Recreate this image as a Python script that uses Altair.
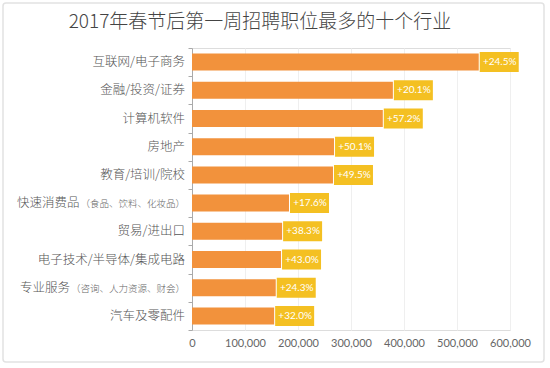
import altair as alt
import pandas as pd

# Top ten industries by job postings, first week after Spring Festival 2017
industries = ["互联网/电子商务", "金融/投资/证券", "计算机软件", "房地产", "教育/培训/院校",
              "快速消费品", "贸易/进出口", "电子技术/半导体/集成电路", "专业服务", "汽车及零配件"]
details = ["", "", "", "", "", "（食品、饮料、化妆品）", "", "", "（咨询、人力资源、财会）", ""]
postings = [541000, 379000, 360000, 268000, 266000, 183000, 170000, 168000, 158000, 155000]
growth = [24.5, 20.1, 57.2, 50.1, 49.5, 17.6, 38.3, 43.0, 24.3, 32.0]
x_ticks = [0, 100000, 200000, 300000, 400000, 500000, 600000]
title_text = "2017年春节后第一周招聘职位最多的十个行业"

MAIN_FS = 12.5
SUB_FS = 9.5

df = pd.DataFrame({
    "industry": industries,
    "detail": details,
    "postings": postings,
    "growth": growth,
})
df["growth_label"] = ["+" + format(g, ".1f") + "%" for g in growth]
# shift the main label left by the width of its smaller bracketed note
df["main_off"] = [-(len(d) * SUB_FS + 1) if d else 0 for d in details]

ORANGE = "#F2923C"
GOLD = "#F4C022"
LABEL_FONT = "Noto Sans CJK SC"

y_enc = alt.Y("industry:N", sort=industries, title=None,
              scale=alt.Scale(paddingInner=0, paddingOuter=0),
              axis=alt.Axis(labels=False, domain=True, domainColor="#aaaaaa",
                            ticks=True, tickColor="#aaaaaa", tickSize=4,
                            tickBand="extent", grid=False))
x_enc = alt.X("postings:Q", title=None,
              scale=alt.Scale(domain=[0, 600000], nice=False),
              axis=alt.Axis(values=x_ticks, format=",d", domain=False, ticks=False,
                            grid=True, gridColor="#efefef", labelPadding=7,
                            labelOverlap=False, labelFlush=False,
                            labelFont="Lato", labelFontSize=11, labelColor="#666666"))

base = alt.Chart(df)

bars = base.mark_bar(color=ORANGE, height=17).encode(x=x_enc, y=y_enc)

boxes = base.mark_bar(color=GOLD, height=20, xOffset=1, x2Offset=40).encode(
    x="postings:Q", x2="postings:Q", y=alt.Y("industry:N", sort=industries))

pct = base.mark_text(color="white", fontSize=10, font="Lato", align="center",
                     baseline="middle", dx=21).encode(
    x="postings:Q", y=alt.Y("industry:N", sort=industries), text="growth_label:N")

main_labels = base.mark_text(align="right", baseline="middle", font=LABEL_FONT,
                             fontSize=MAIN_FS, fontWeight=300, color="#555555").encode(
    x=alt.value(-7),
    xOffset=alt.XOffset("main_off:Q", scale=None),
    y=alt.Y("industry:N", sort=industries),
    text="industry:N")

sub_labels = base.transform_filter("datum.detail != ''").mark_text(
    align="right", baseline="middle", font=LABEL_FONT, fontSize=SUB_FS,
    fontWeight=300, color="#666666", dy=1).encode(
    x=alt.value(-7), y=alt.Y("industry:N", sort=industries), text="detail:N")

deco = pd.DataFrame({"title": [title_text]})

# light rounded frame around the whole figure
frame = alt.Chart(deco).mark_rect(
    fill=None, stroke="#e2e2e2", strokeWidth=1.5, cornerRadius=3).encode(
    x=alt.value(-189), x2=alt.value(352), y=alt.value(-45), y2=alt.value(314))

# chart heading, centred over the figure's left-weighted layout
heading = alt.Chart(deco).mark_text(
    font=LABEL_FONT, fontSize=19, fontWeight=300, color="#444444",
    align="center", baseline="middle").encode(
    x=alt.value(68), y=alt.value(-26), text="title:N")

chart = alt.layer(frame, heading, bars, boxes, pct, main_labels, sub_labels).properties(
    width=318, height=282,
    autosize=alt.AutoSizeParams(type="none"),
    padding={"left": 192, "top": 48, "right": 40, "bottom": 38},
).configure_view(stroke=None).configure(background="white")

chart.save("out.html", embed_options={"renderer": "svg", "actions": False})
